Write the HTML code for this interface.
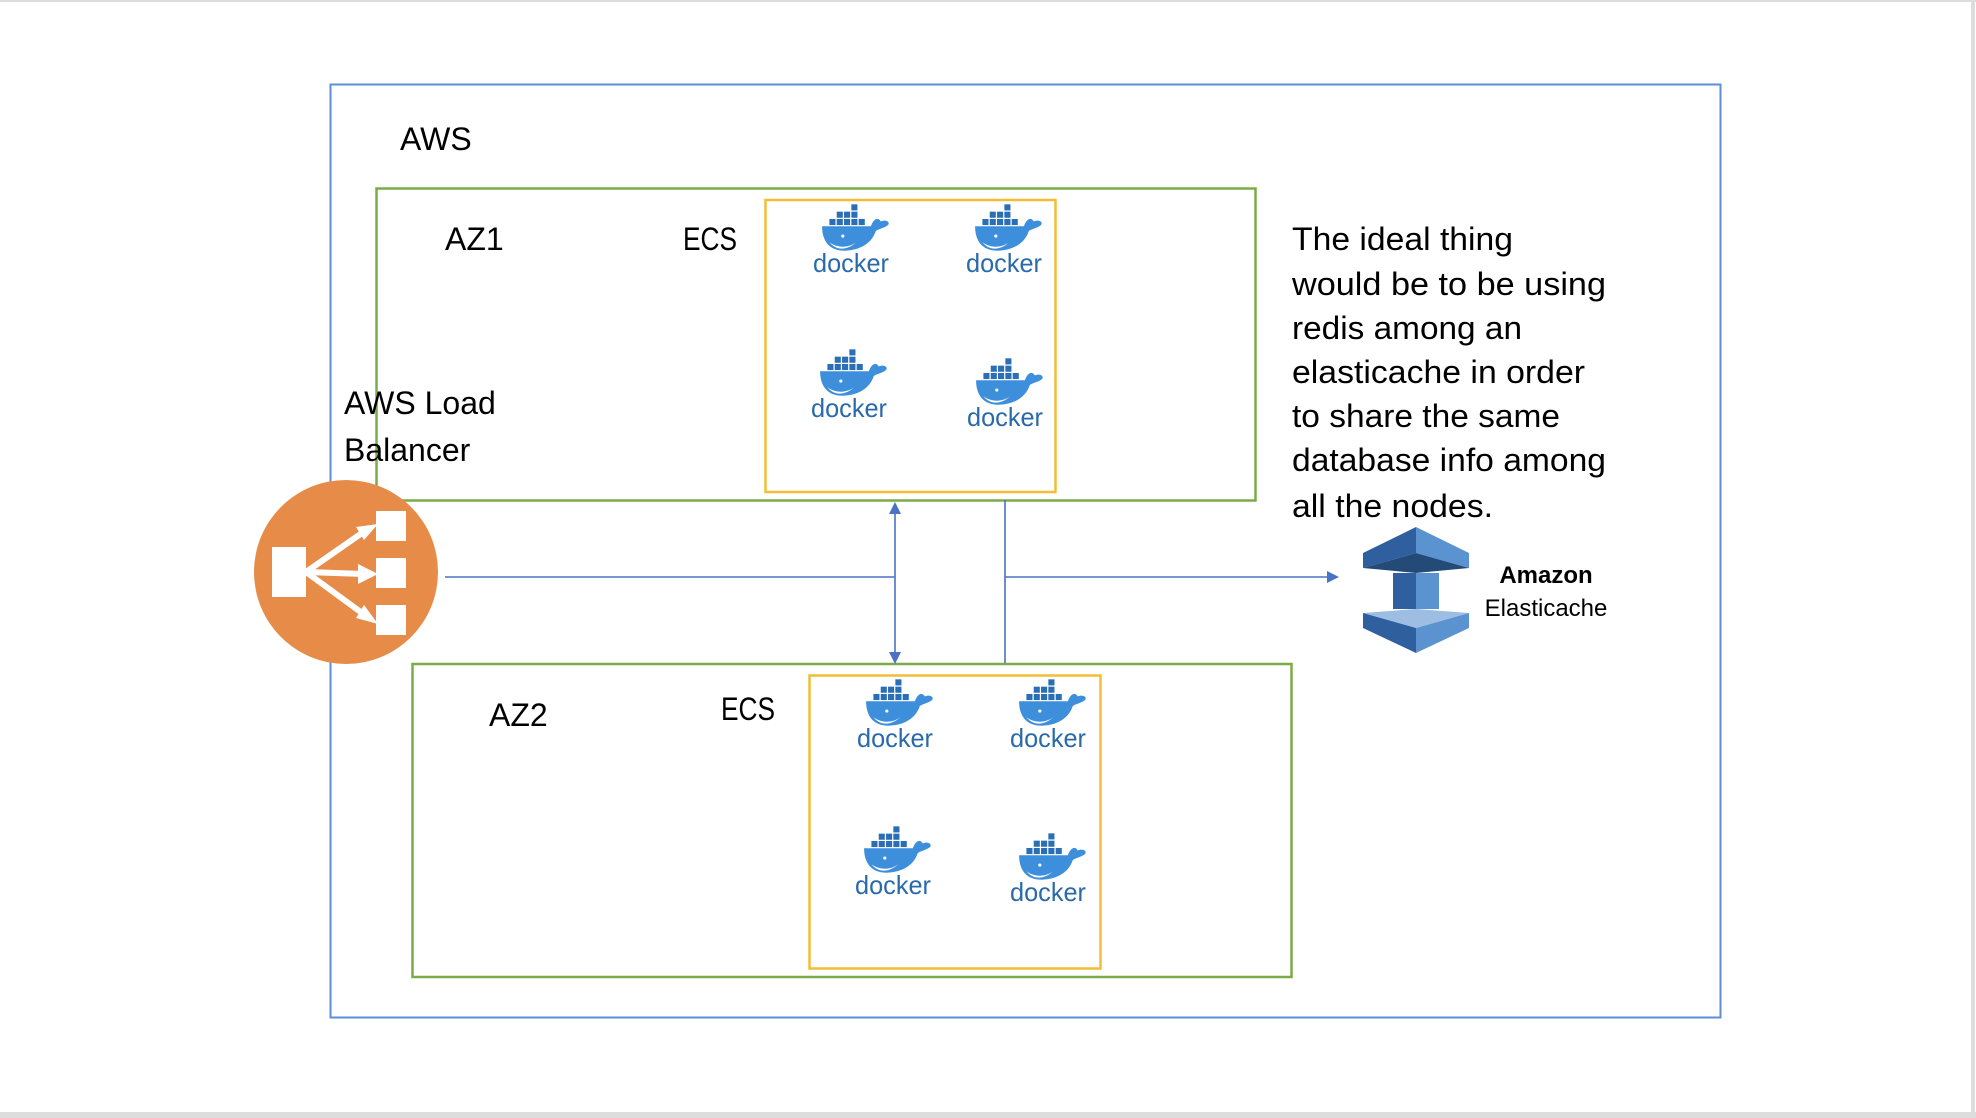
<!DOCTYPE html>
<html><head><meta charset="utf-8"><style>
html,body{margin:0;padding:0;background:#fff;}
svg{display:block;}
text{font-family:"Liberation Sans",sans-serif;}
</style></head><body>
<svg width="1976" height="1118" viewBox="0 0 1976 1118" xmlns="http://www.w3.org/2000/svg">
<defs>
<g id="dk">
 <g transform="translate(-8,-2) scale(1.22)">
 <g fill="#2a6fb5">
  <rect x="20" y="9" width="5" height="5"/><rect x="26" y="9" width="5" height="5"/><rect x="32" y="9" width="5" height="5"/><rect x="38" y="9" width="5" height="5"/><rect x="44" y="9" width="5" height="5"/>
  <rect x="26" y="3" width="5" height="5"/><rect x="32" y="3" width="5" height="5"/><rect x="38" y="3" width="5" height="5"/>
  <rect x="38" y="-3" width="5" height="5"/>
 </g>
 <path d="M14,15 L54,15 C56,9 60,7 62,11 C67,9 70,12 68,14 C64,17 60,17 58,19 C54,31 42,35 32,35 C20,35 14,27 14,15 Z" fill="#3d8fdc"/>
 <path d="M20,28 C26,33 36,33 42,28 C36,34 26,36 20,28Z" fill="#fff"/>
 <circle cx="31" cy="23" r="1.3" fill="#fff"/>
 </g>
 <text x="38" y="62" text-anchor="middle" font-size="26" textLength="76" lengthAdjust="spacingAndGlyphs" fill="#2a6aab">docker</text>
</g>
</defs>
<rect x="0" y="0" width="1976" height="1118" fill="#fff"/>
<line x1="0" y1="1" x2="1976" y2="1" stroke="#ddd" stroke-width="2"/>
<line x1="1973" y1="0" x2="1973" y2="1118" stroke="#ddd" stroke-width="4"/>
<line x1="0" y1="1115" x2="1976" y2="1115" stroke="#ddd" stroke-width="6"/>

<rect x="330.5" y="84.5" width="1390" height="933" fill="none" stroke="#5b8fd6" stroke-width="2"/>
<text x="400" y="150" font-size="32" fill="#000">AWS</text>

<rect x="376.5" y="188.5" width="879" height="312" fill="none" stroke="#7aab48" stroke-width="2.5"/>
<text x="445" y="250" font-size="32">AZ1</text>
<text x="683" y="250" font-size="32" textLength="54" lengthAdjust="spacingAndGlyphs">ECS</text>
<rect x="765.5" y="200" width="290" height="292" fill="none" stroke="#f3bd36" stroke-width="2.5"/>
<use href="#dk" x="813" y="210"/><use href="#dk" x="966" y="210"/>
<use href="#dk" x="811" y="355"/><use href="#dk" x="967" y="364"/>

<rect x="412.5" y="664" width="879" height="313" fill="none" stroke="#7aab48" stroke-width="2.5"/>
<text x="489" y="726" font-size="32">AZ2</text>
<text x="721" y="720" font-size="32" textLength="54" lengthAdjust="spacingAndGlyphs">ECS</text>
<rect x="809.5" y="675.5" width="291" height="293" fill="none" stroke="#f3bd36" stroke-width="2.5"/>
<use href="#dk" x="857" y="685"/><use href="#dk" x="1010" y="685"/>
<use href="#dk" x="855" y="832"/><use href="#dk" x="1010" y="839"/>

<text x="344" y="414" font-size="32">AWS Load</text>
<text x="344" y="461" font-size="32">Balancer</text>

<g stroke="#4a72c4" stroke-width="1.6" fill="none">
 <line x1="445" y1="577" x2="895" y2="577"/>
 <line x1="895" y1="510" x2="895" y2="656"/>
 <line x1="1005" y1="500" x2="1005" y2="663"/>
 <line x1="1005" y1="577" x2="1330" y2="577"/>
</g>
<g fill="#4a72c4">
 <polygon points="895,502 889,514 901,514"/>
 <polygon points="895,664 889,652 901,652"/>
 <polygon points="1339,577 1327,571 1327,583"/>
</g>

<circle cx="346" cy="572" r="92" fill="#e78b49"/>
<g fill="#fff">
 <rect x="272" y="547" width="34" height="50"/>
 <rect x="376" y="511" width="30" height="30"/>
 <rect x="376" y="558" width="30" height="30"/>
 <rect x="376" y="605" width="30" height="30"/>
 <polygon points="378,524 356,527 364,540"/><polygon points="378,574 358,564 358,584"/><polygon points="378,624 356,618 364,605"/>
</g>
<g stroke="#fff" stroke-width="6">
 <line x1="306" y1="572" x2="362" y2="533"/>
 <line x1="306" y1="572" x2="364" y2="574"/>
 <line x1="306" y1="572" x2="362" y2="613"/>
</g>

<g font-size="32" fill="#000">
 <text x="1292" y="250" textLength="221" lengthAdjust="spacingAndGlyphs">The ideal thing</text>
 <text x="1292" y="295" textLength="314" lengthAdjust="spacingAndGlyphs">would be to be using</text>
 <text x="1292" y="339" textLength="230" lengthAdjust="spacingAndGlyphs">redis among an</text>
 <text x="1292" y="383" textLength="293" lengthAdjust="spacingAndGlyphs">elasticache in order</text>
 <text x="1292" y="427" textLength="268" lengthAdjust="spacingAndGlyphs">to share the same</text>
 <text x="1292" y="471" textLength="314" lengthAdjust="spacingAndGlyphs">database info among</text>
 <text x="1292" y="517" textLength="201" lengthAdjust="spacingAndGlyphs">all the nodes.</text>
</g>

<polygon points="1416,527 1363,553 1363,568 1416,553" fill="#2f5f9e"/>
<polygon points="1416,527 1469,553 1469,568 1416,553" fill="#5b93d0"/>
<polygon points="1363,568 1416,553 1469,568 1416,573" fill="#244b78"/>
<rect x="1393" y="573" width="23" height="36" fill="#2f5f9e"/>
<rect x="1416" y="573" width="23" height="36" fill="#5b93d0"/>
<polygon points="1363,613 1416,609 1469,613 1416,628" fill="#9ebde3"/>
<polygon points="1363,613 1416,628 1416,653 1363,628" fill="#2f5f9e"/>
<polygon points="1469,613 1416,628 1416,653 1469,628" fill="#5b93d0"/>
<text x="1546" y="583" font-size="24" font-weight="bold" text-anchor="middle">Amazon</text>
<text x="1546" y="616" font-size="24" text-anchor="middle">Elasticache</text>
</svg>
</body></html>
